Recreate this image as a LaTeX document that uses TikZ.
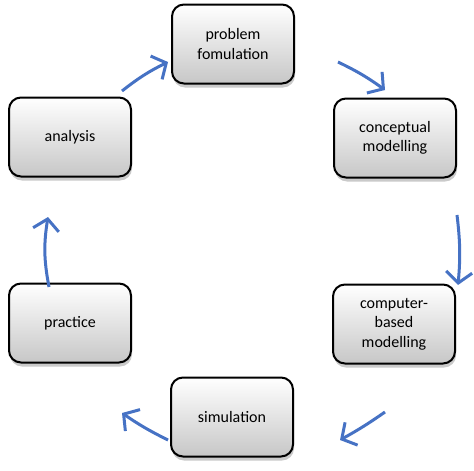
\documentclass[tikz,border=0pt]{standalone}
\usepackage{fontspec}
\setmainfont{Carlito}
\usetikzlibrary{arrows.meta,shadows,positioning}
\definecolor{arrowblue}{RGB}{70,114,196}
\begin{document}
\begin{tikzpicture}[x=1pt,y=-1pt,
  stagebox/.style={draw=black, line width=2pt, rounded corners=12pt,
    minimum width=122pt, minimum height=79pt, align=center,
    top color=white, bottom color=black!22,
    font=\fontsize{16}{19.5}\selectfont,
    drop shadow={shadow xshift=1pt, shadow yshift=-4pt, opacity=0.35, fill=black!60}},
  flow/.style={draw=arrowblue, line width=3pt,
    -{Straight Barb[length=11pt,width=26pt,line width=3pt]}}]
\useasboundingbox (0,0) rectangle (474,471);
\node[stagebox] (prob) at (233,44) {problem\\fomulation};
\node[stagebox] (conc) at (395,138) {conceptual\\modelling};
\node[stagebox] (comp) at (394,324) {computer-\\based\\modelling};
\node[stagebox] (sim) at (232,417) {simulation};
\node[stagebox] (prac) at (70,323) {practice};
\node[stagebox] (ana) at (70,137) {analysis};
\coordinate (a1) at (122,91); \coordinate (a2) at (168,62);
\coordinate (b1) at (338,62); \coordinate (b2) at (385,90);
\coordinate (c1) at (457,215); \coordinate (c2) at (458,285);
\coordinate (d1) at (385,412); \coordinate (d2) at (340,440);
\coordinate (e1) at (168,440); \coordinate (e2) at (122,413);
\coordinate (f1) at (49,287); \coordinate (f2) at (48,217);
\draw[flow] (a1) to[bend left=6] (a2);
\draw[flow] (b1) to[bend left=5] (b2);
\draw[flow] (c1) to[bend left=6] (c2);
\draw[flow] (d1) to[bend left=3] (d2);
\draw[flow] (e1) to[bend left=4] (e2);
\draw[flow] (f1) to[bend left=10] (f2);
\end{tikzpicture}
\end{document}
